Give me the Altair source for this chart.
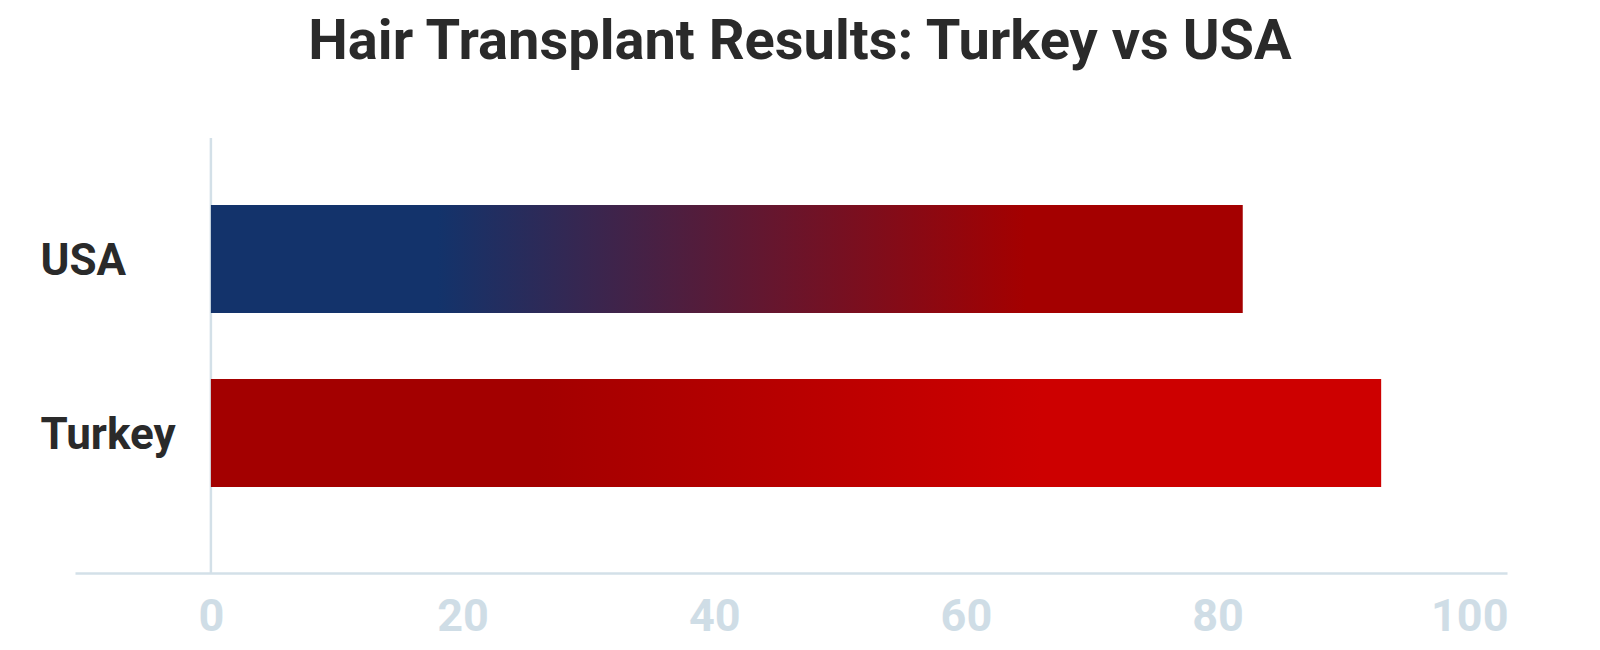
import altair as alt
import pandas as pd

countries = ["USA", "Turkey"]
results = [82, 93]

df = pd.DataFrame({"country": countries, "result": results})

FONT = "Roboto"
AXIS_LIGHT = "#D3E0E8"
TICK_LABEL = "#CFDDE6"
DARK = "#2A2A2A"

x_enc = alt.X(
    "result:Q",
    scale=alt.Scale(domain=[-10.8, 103], nice=False, zero=False),
    axis=alt.Axis(
        values=[0, 20, 40, 60, 80, 100],
        title=None,
        grid=False,
        ticks=False,
        tickSize=0,
        domainColor=AXIS_LIGHT,
        domainWidth=2.5,
        labelFont=FONT,
        labelFontSize=45,
        labelFontWeight="bold",
        labelColor=TICK_LABEL,
        labelPadding=57,
        labelBaseline="alphabetic",
        labelFlush=False,
        labelOverlap=False,
    ),
)

y_enc = alt.Y(
    "country:N",
    sort=countries,
    scale=alt.Scale(domain=countries, paddingInner=0.379, paddingOuter=0.44, align=0.438),
    axis=alt.Axis(
        title=None,
        domain=False,
        ticks=False,
        tickSize=0,
        grid=False,
        labelFont=FONT,
        labelFontSize=44,
        labelFontWeight="bold",
        labelColor=DARK,
        labelAlign="left",
        labelBaseline="alphabetic",
        labelOffset=16,
        labelPadding=35,
        labelLimit=400,
    ),
)

usa_grad = alt.LinearGradient(
    gradient="linear",
    stops=[
        alt.GradientStop(color="#13336B", offset=0),
        alt.GradientStop(color="#13336B", offset=0.22),
        alt.GradientStop(color="#A40000", offset=0.79),
        alt.GradientStop(color="#A40000", offset=1),
    ],
    x1=0, x2=1, y1=0, y2=0,
)

tur_grad = alt.LinearGradient(
    gradient="linear",
    stops=[
        alt.GradientStop(color="#A30000", offset=0),
        alt.GradientStop(color="#A30000", offset=0.28),
        alt.GradientStop(color="#CD0000", offset=0.71),
        alt.GradientStop(color="#CD0000", offset=1),
    ],
    x1=0, x2=1, y1=0, y2=0,
)

base = alt.Chart(df)

usa_bar = base.mark_bar(color=usa_grad).encode(x=x_enc, y=y_enc).transform_filter(
    alt.datum.country == "USA"
)
tur_bar = base.mark_bar(color=tur_grad).encode(x=x_enc, y=y_enc).transform_filter(
    alt.datum.country == "Turkey"
)

zero_rule = base.mark_rule(color=AXIS_LIGHT, strokeWidth=2.5).encode(
    x=alt.datum(0)
).transform_filter(alt.datum.country == "USA")

chart = (
    alt.layer(zero_rule, usa_bar, tur_bar)
    .properties(
        width=1432,
        height=435,
        view=alt.ViewBackground(stroke="transparent", strokeWidth=0),
        title=alt.TitleParams(
            "Hair Transplant Results: Turkey vs USA",
            font=FONT,
            fontSize=56,
            fontWeight="bold",
            color=DARK,
            anchor="middle",
            frame="group",
            baseline="alphabetic",
            offset=22,
            dx=9,
        ),
        autosize=alt.AutoSizeParams(type="none"),
        padding={"left": 67, "top": 130, "right": 60, "bottom": 70},
    )
    .configure_view(stroke="transparent", strokeWidth=0)
    .configure(background="white")
)

chart.save("out.html", embed_options={"renderer": "svg", "actions": False})
